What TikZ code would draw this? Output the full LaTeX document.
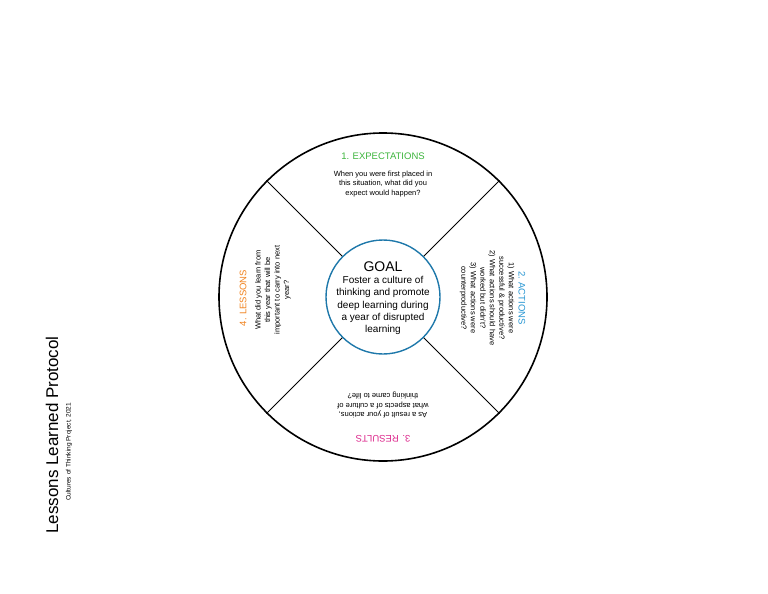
\documentclass[tikz,border=0pt]{standalone}
\usepackage{fontspec}
\setmainfont{Liberation Sans}
\definecolor{cgreen}{RGB}{60,180,60}
\definecolor{cblue}{RGB}{40,150,210}
\definecolor{cpink}{RGB}{220,40,140}
\definecolor{corange}{RGB}{240,130,30}
\definecolor{cring}{RGB}{30,120,170}
\begin{document}
\begin{tikzpicture}[x=1pt,y=-1pt,
  ttl/.style={font=\fontsize{9.5}{11}\selectfont},
  body/.style={font=\fontsize{7.5}{9.5}\selectfont,align=center}]
\useasboundingbox (0,0) rectangle (768,594);
\coordinate (c) at (383,297);
\node[circle,draw=black,line width=1.6pt,minimum size=328pt,inner sep=0] (outer) at (c) {};
\node[circle,draw=cring,line width=1.4pt,minimum size=114pt,inner sep=0] (inner) at (c) {};
\foreach \a in {45,135,225,315} \draw[line width=1pt] (inner.\a) -- (outer.\a);
\node[align=center,font=\fontsize{10}{12.3}\selectfont] (goal) at (383,298)
 {{\fontsize{14}{16}\selectfont GOAL}\\Foster a culture of\\thinking and promote\\deep learning during\\a year of disrupted\\learning};
\node[ttl,text=cgreen] (t1) at (383,156) {1. EXPECTATIONS};
\node[body] (b1) at (383,184) {When you were first placed in\\this situation, what did you\\expect would happen?};
\node[ttl,text=cblue,rotate=-90] (t2) at (522,298) {2. ACTIONS};
\node[body,rotate=-90] (b2) at (487,298) {1) What actions were\\successful \& productive?\\2) What actions should have\\worked but didn't?\\3) What actions were\\counterproductive?};
\node[ttl,text=cpink,rotate=180] (t3) at (383,439) {3. RESULTS};
\node[body,rotate=180] (b3) at (383,405) {As a result of your actions,\\what aspects of a culture of\\thinking came to life?};
\node[ttl,text=corange,rotate=90] (t4) at (243,298) {4. LESSONS};
\node[body,rotate=90] (b4) at (273,290) {What did you learn from\\this year that will be\\important to carry into next\\year?};
\node[rotate=90,font=\fontsize{17}{19}\selectfont] (title) at (52,435) {Lessons Learned Protocol};
\node[rotate=90,font=\fontsize{6.5}{8}\selectfont] (sub) at (69,452) {Cultures of Thinking Project, 2021};
\end{tikzpicture}
\end{document}
